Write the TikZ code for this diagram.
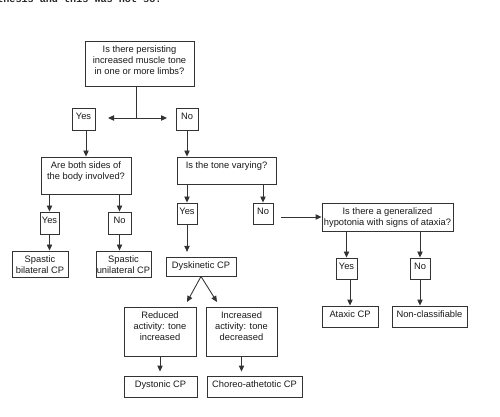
\documentclass[tikz,border=0pt]{standalone}
\usepackage{fontspec}
\setmainfont{Liberation Sans}
\setmonofont{Liberation Mono}
\usetikzlibrary{arrows.meta,fit}

\begin{document}
\begin{tikzpicture}[x=0.75pt,y=0.75pt,yscale=-1,xscale=1,
  box/.style={draw=black!80, line width=0.65pt, inner sep=0pt},
  txt/.style={anchor=north, align=center, inner sep=1pt, yshift=-2.6pt, text=black!90, font=\fontsize{7}{8.3}\selectfont},
  arr/.style={draw=black!80, line width=0.65pt, -{Triangle[length=4.5pt,width=4pt]}},
  ln/.style={draw=black!80, line width=0.65pt}]
\useasboundingbox (0,0) rectangle (500,417);

% Text Node (cut line of the page above)
\node [anchor=base west, inner sep=0pt, font=\fontsize{7.6}{9}\ttfamily\bfseries, text=black!85] (pagetxt) at (-3,3) {thesis and this was not so.};

%Shape: Rectangle
\node [box, fit={(85,41) (194,86)}] (q1) {};
\node [box, fit={(72,108) (95,130)}] (yes1) {};
\node [box, fit={(176,108) (198,130)}] (no1) {};
\node [box, fit={(41,157) (131,194)}] (q2) {};
\node [box, fit={(177,157) (276,184)}] (q3) {};
\node [box, fit={(40,212) (59,234)}] (yes2) {};
\node [box, fit={(108,212) (131,234)}] (no2) {};
\node [box, fit={(12,251) (68,277)}] (bilat) {};
\node [box, fit={(96,251) (151,277)}] (unilat) {};
\node [box, fit={(177,203) (197,224)}] (yes3) {};
\node [box, fit={(253,203) (273,224)}] (no3) {};
\node [box, fit={(322,203) (453,231)}] (q4) {};
\node [box, fit={(166,257) (236,276)}] (dysk) {};
\node [box, fit={(336,258) (357,279)}] (yes4) {};
\node [box, fit={(410,258) (430,279)}] (no4) {};
\node [box, fit={(322,306) (378,327)}] (atax) {};
\node [box, fit={(392,306) (467,327)}] (noncl) {};
\node [box, fit={(124,307) (196,356)}] (reduc) {};
\node [box, fit={(206,307) (277,356)}] (incr) {};
\node [box, fit={(124,376) (197,397)}] (dyst) {};
\node [box, fit={(207,376) (302,397)}] (chor) {};

% Text Node
\node [txt] (q1t) at (q1.north) {Is there persisting\\increased muscle tone\\in one or more limbs?};
\node [txt] (yes1t) at (yes1.north) {Yes};
\node [txt] (no1t) at (no1.north) {No};
\node [txt] (q2t) at (q2.north) {Are both sides of\\the body involved?};
\node [txt] (q3t) at (q3.north) {Is the tone varying?};
\node [txt] (yes2t) at (yes2.north) {Yes};
\node [txt] (no2t) at (no2.north) {No};
\node [txt] (bilatt) at (bilat.north) {Spastic\\bilateral CP};
\node [txt] (unilatt) at (unilat.north) {Spastic\\unilateral CP};
\node [txt] (yes3t) at (yes3.north) {Yes};
\node [txt] (no3t) at (no3.north) {No};
\node [txt] (q4t) at (q4.north) {Is there a generalized\\hypotonia with signs of ataxia?};
\node [txt] (dyskt) at (dysk.north) {Dyskinetic CP};
\node [txt] (yes4t) at (yes4.north) {Yes};
\node [txt] (no4t) at (no4.north) {No};
\node [txt] (ataxt) at (atax.north) {Ataxic CP};
\node [txt] (nonclt) at (noncl.north) {Non-classifiable};
\node [txt] (reduct) at (reduc.north) {Reduced\\activity: tone\\increased};
\node [txt] (incrt) at (incr.north) {Increased\\activity: tone\\decreased};
\node [txt] (dystt) at (dyst.north) {Dystonic CP};
\node [txt] (chort) at (chor.north) {Choreo-athetotic CP};

% free ends
\coordinate (split) at (136,118);
\coordinate (toyes) at (108,118);
\coordinate (tono) at (167,118);
\coordinate (toreduc) at (187,302);
\coordinate (toincr) at (217,302);

%Straight Lines
\draw [ln] (q1.south -| split) -- (split);
\draw [arr] (split) -- (toyes);
\draw [arr] (split) -- (tono);
\draw [arr] (yes1.south -| q2.north) -- (q2.north);
\draw [arr] (no1.south) -- (no1.south |- q3.north);
\draw [arr] (q2.south -| yes2.north) -- (yes2.north);
\draw [arr] (q2.south -| no2.north) -- (no2.north);
\draw [arr] (yes2.south) -- (yes2.south |- bilat.north);
\draw [arr] (no2.south) -- (no2.south |- unilat.north);
\draw [arr] (q3.south -| yes3.north) -- (yes3.north);
\draw [arr] (q3.south -| no3.north) -- (no3.north);
\draw [arr, shorten <=6pt] (no3.east |- q4.west) -- (q4.west);
\draw [arr, shorten >=3.5pt] (yes3.south) -- (yes3.south |- dysk.north);
\draw [arr] (q4.south -| yes4.north) -- (yes4.north);
\draw [arr] (q4.south -| no4.north) -- (no4.north);
\draw [arr] (atax.north |- yes4.south) -- (atax.north);
\draw [arr] (no4.south) -- (no4.south |- noncl.north);
\draw [arr] (dysk.south) -- (toreduc);
\draw [arr] (dysk.south) -- (toincr);
\draw [arr, shorten >=3pt] (reduc.south) -- (reduc.south |- dyst.north);
\draw [arr, shorten >=3pt] (incr.south) -- (incr.south |- chor.north);

\end{tikzpicture}
\end{document}
